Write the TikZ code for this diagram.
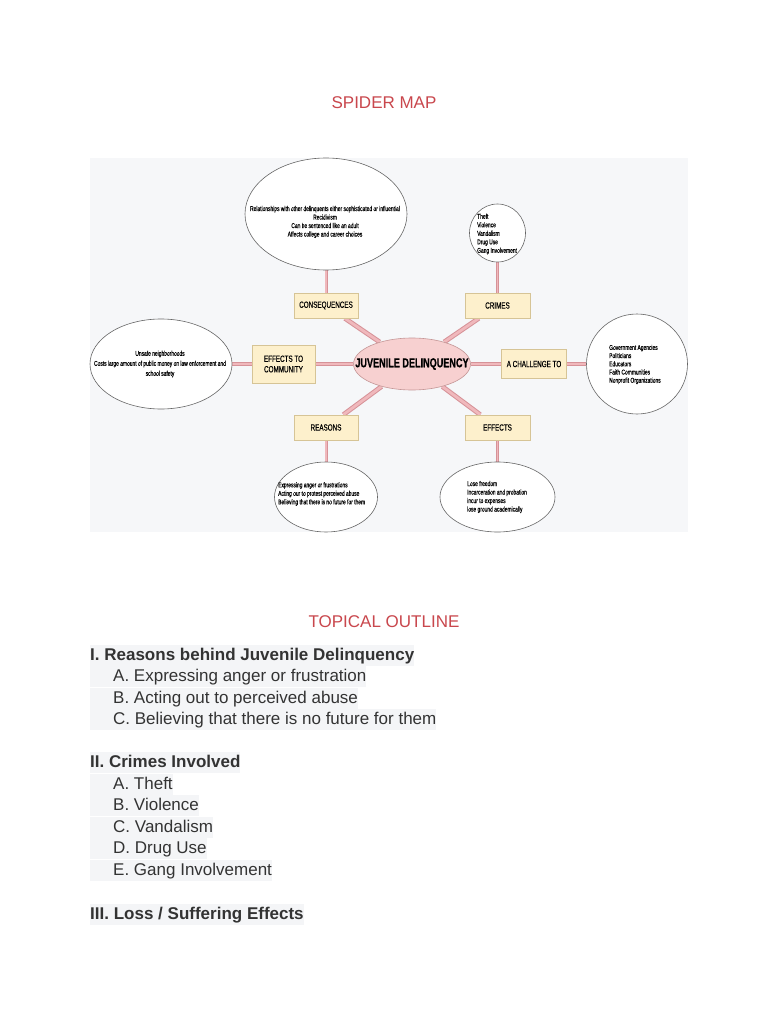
\documentclass[tikz,border=0pt]{standalone}
\usepackage{fontspec}
\setmainfont{Liberation Sans}
\newfontfamily\comicf[FakeStretch=0.7,FakeBold=0.3]{Liberation Sans}
\newfontfamily\comicb[FakeStretch=0.7,FakeBold=0.6]{Liberation Sans}
\usetikzlibrary{shapes.geometric}
\definecolor{titlered}{RGB}{201,71,77}
\definecolor{txt}{RGB}{51,51,51}
\definecolor{mapbg}{RGB}{246,247,249}
\definecolor{hl}{RGB}{244,245,247}
\definecolor{boxfill}{RGB}{253,240,204}
\definecolor{boxline}{RGB}{214,196,150}
\definecolor{pinkedge}{RGB}{214,146,152}
\definecolor{pinkin}{RGB}{240,184,188}
\definecolor{hubfill}{RGB}{247,208,208}
\definecolor{hubline}{RGB}{196,150,150}
\pgfdeclarelayer{bglayer}
\pgfdeclarelayer{connlayer}
\pgfsetlayers{bglayer,connlayer,main}
\begin{document}
\begin{tikzpicture}[x=1pt,y=-1pt,
  ttl/.style={text=titlered,font=\fontsize{17}{20}\selectfont,inner sep=0,anchor=base},
  headrow/.style={anchor=base west,fill=hl,inner xsep=0,inner ysep=0,text height=15.5pt,text depth=5.5pt,text=txt,font=\fontsize{17}{20}\selectfont\bfseries},
  olitem/.style={headrow,font=\fontsize{17}{20}\selectfont},
  topic/.style={rectangle,fill=boxfill,draw=boxline,line width=0.6pt,inner sep=0,align=center,font=\comicf\fontsize{9}{10.5}\selectfont},
  bubble/.style={ellipse,draw=black!60,line width=0.6pt,fill=white,inner sep=0},
  tinytext/.style={inner sep=0,font=\comicf\fontsize{7}{8.5}\selectfont},
  linkline/.style={draw=pinkedge,double=pinkin,line width=1pt,double distance=2.8pt},
  stemline/.style={draw=pinkedge,double=pinkin,line width=0.8pt,double distance=1.4pt}
]
\useasboundingbox (0,0) rectangle (768,1024);

\begin{pgfonlayer}{bglayer}
  \fill[white] (0,0) rectangle (768,1024);
  \fill[mapbg] (90,158) rectangle (688,532);
\end{pgfonlayer}

\node[ttl] (t1) at (384,109) {SPIDER MAP};

% hub
\node[ellipse,draw=hubline,fill=hubfill,line width=0.6pt,minimum width=117pt,minimum height=52pt,inner sep=0,
      font=\comicb\bfseries\fontsize{13}{15}\selectfont] (hub) at (412,364) {\makebox[0pt]{JUVENILE DELINQUENCY}};

% topic boxes
\node[topic,minimum width=64pt,minimum height=25pt] (cons) at (326,305.5) {CONSEQUENCES};
\node[topic,minimum width=65pt,minimum height=25pt] (crim) at (497.5,305.5) {CRIMES};
\node[topic,minimum width=65pt,minimum height=29pt] (chal) at (534,364) {A CHALLENGE TO};
\node[topic,minimum width=63pt,minimum height=38pt] (comm) at (283.5,364) {EFFECTS TO\\COMMUNITY};
\node[topic,minimum width=64pt,minimum height=25pt] (reas) at (326,427.5) {REASONS};
\node[topic,minimum width=65pt,minimum height=25pt] (effe) at (497.5,427.5) {EFFECTS};

% bubbles
\node[bubble,minimum width=162pt,minimum height=112pt] (b1) at (326,214) {};
\node[bubble,minimum width=56pt,minimum height=58pt] (b2) at (497.5,233) {};
\node[bubble,minimum width=142pt,minimum height=90pt] (b3) at (161,364) {};
\node[bubble,minimum width=101pt,minimum height=100pt] (b4) at (637,364) {};
\node[bubble,minimum width=103pt,minimum height=70pt] (b5) at (326,497) {};
\node[bubble,minimum width=115pt,minimum height=70pt] (b6) at (497.5,497) {};

% bubble texts
\node[tinytext,align=center] (b1t) at (325,222) {Relationships with other delinquents either sophisticated or influential\\Recidivism\\Can be sentenced like an adult\\Affects college and career choices};
\node[tinytext,align=left,anchor=west] (b2t) at (477,234) {Theft\\Violence\\Vandalism\\Drug Use\\Gang Involvement};
\node[tinytext,align=center,font=\comicf\fontsize{7}{10}\selectfont] (b3t) at (160,364) {Unsafe neighborhoods\\Costs large amount of public money on law enforcement and\\school safety};
\node[tinytext,align=left,anchor=west,font=\comicf\fontsize{7}{8.2}\selectfont] (b4t) at (609,364.5) {Government Agencies\\Politicians\\Educators\\Faith Communities\\Nonprofit Organizations};
\node[tinytext,align=left,anchor=west] (b5t) at (278,494) {Expressing anger or frustrations\\Acting our to protest perceived abuse\\Believing that there is no future for them};
\node[tinytext,align=left,anchor=west] (b6t) at (467,497) {Lose freedom\\Incarceration and probation\\incur to expenses\\lose ground academically};

% connectors
\begin{pgfonlayer}{connlayer}
  \path[linkline] (hub) -- (cons);
  \path[linkline] (hub) -- (crim);
  \path[linkline] (hub) -- (chal);
  \path[linkline] (hub) -- (comm);
  \path[linkline] (hub) -- (reas);
  \path[linkline] (hub) -- (effe);
  \path[linkline] (comm) -- (b3);
  \path[linkline] (chal) -- (b4);
  \path[stemline] (cons) -- (b1);
  \path[stemline] (crim) -- (b2);
  \path[stemline] (reas) -- (b5);
  \path[stemline] (effe) -- (b6);
\end{pgfonlayer}

% outline
\node[ttl] (t2) at (384,627) {TOPICAL OUTLINE};
\node[headrow] (h1) at (90,660) {I. Reasons behind Juvenile Delinquency};
\node[olitem] (h1a) at (90,681.5) {\hspace*{23pt}A. Expressing anger or frustration};
\node[olitem] (h1b) at (90,703) {\hspace*{23pt}B. Acting out to perceived abuse};
\node[olitem] (h1c) at (90,724.5) {\hspace*{23pt}C. Believing that there is no future for them};

\node[headrow] (h2) at (90,767) {II. Crimes Involved};
\node[olitem] (h2a) at (90,789) {\hspace*{23pt}A. Theft};
\node[olitem] (h2b) at (90,810.5) {\hspace*{23pt}B. Violence};
\node[olitem] (h2c) at (90,832) {\hspace*{23pt}C. Vandalism};
\node[olitem] (h2d) at (90,853.5) {\hspace*{23pt}D. Drug Use};
\node[olitem] (h2e) at (90,875) {\hspace*{23pt}E. Gang Involvement};

\node[headrow] (h3) at (90,919) {III. Loss / Suffering Effects};
\end{tikzpicture}
\end{document}
